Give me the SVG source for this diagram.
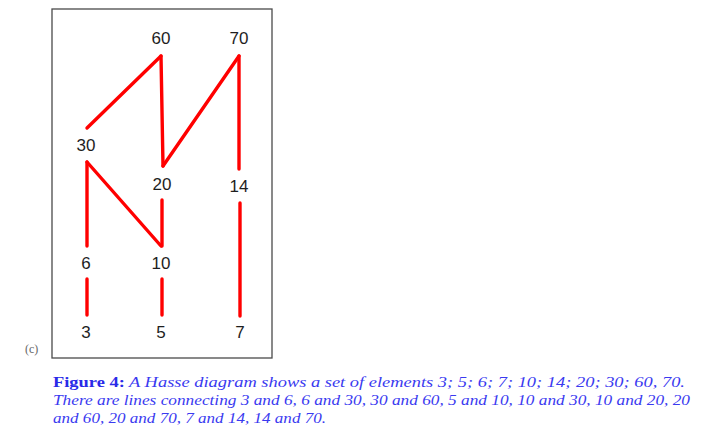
<svg xmlns="http://www.w3.org/2000/svg" width="713" height="448" viewBox="0 0 713 448">
<style>
.edge{stroke:#ff0000;stroke-width:3.4;fill:none;stroke-linecap:round;stroke-linejoin:round}
.lbl{font-family:"Liberation Sans",Arial,sans-serif;font-size:17px;fill:#1e1e1e;text-anchor:middle}
.cap{font-family:"Liberation Serif","Times New Roman",serif;font-size:14px;fill:#3a3af0;font-style:italic}
.capb{font-style:normal;font-weight:bold;fill:#2a2ae8}
</style>
<rect width="713" height="448" fill="#ffffff"/>
<rect x="52" y="9" width="220" height="349" fill="none" stroke="#4a4a4a" stroke-width="1.3"/>
<text x="25" y="353" font-family="'Liberation Serif',serif" font-size="12" fill="#666">(c)</text>
<g id="connectors">
<line class="edge" x1="87" y1="128" x2="161" y2="56"/>
<line class="edge" x1="161" y1="56" x2="163" y2="166"/>
<line class="edge" x1="163" y1="166" x2="239" y2="56"/>
<line class="edge" x1="239" y1="56" x2="239" y2="169"/>
<line class="edge" x1="240" y1="203" x2="240" y2="316"/>
<line class="edge" x1="87" y1="162" x2="161" y2="246"/>
<line class="edge" x1="87" y1="162" x2="87" y2="246"/>
<line class="edge" x1="162" y1="200" x2="162" y2="246"/>
<line class="edge" x1="87" y1="279" x2="87" y2="315"/>
<line class="edge" x1="162" y1="279" x2="162" y2="315"/>
</g>
<g id="n60"><text class="lbl" x="161" y="44">60</text></g>
<g id="n70"><text class="lbl" x="239" y="44">70</text></g>
<g id="n30"><text class="lbl" x="86" y="151">30</text></g>
<g id="n20"><text class="lbl" x="162" y="190">20</text></g>
<g id="n14"><text class="lbl" x="239" y="192">14</text></g>
<g id="n6"><text class="lbl" x="86" y="269">6</text></g>
<g id="n10"><text class="lbl" x="161" y="269">10</text></g>
<g id="n3"><text class="lbl" x="86" y="338">3</text></g>
<g id="n5"><text class="lbl" x="161" y="338">5</text></g>
<g id="n7"><text class="lbl" x="240" y="338">7</text></g>
<g id="caption">
<text class="cap" x="53" y="387" textLength="632" lengthAdjust="spacingAndGlyphs"><tspan class="capb">Figure 4:</tspan>  A Hasse diagram shows a set of elements 3; 5; 6; 7; 10; 14; 20; 30; 60, 70.</text>
<text class="cap" x="53" y="405" textLength="637" lengthAdjust="spacingAndGlyphs">There are lines connecting 3 and 6, 6 and 30, 30 and 60, 5 and 10, 10 and 30, 10 and 20, 20</text>
<text class="cap" x="53" y="423" textLength="273" lengthAdjust="spacingAndGlyphs">and 60, 20 and 70, 7 and 14, 14 and 70.</text>
</g>
</svg>
